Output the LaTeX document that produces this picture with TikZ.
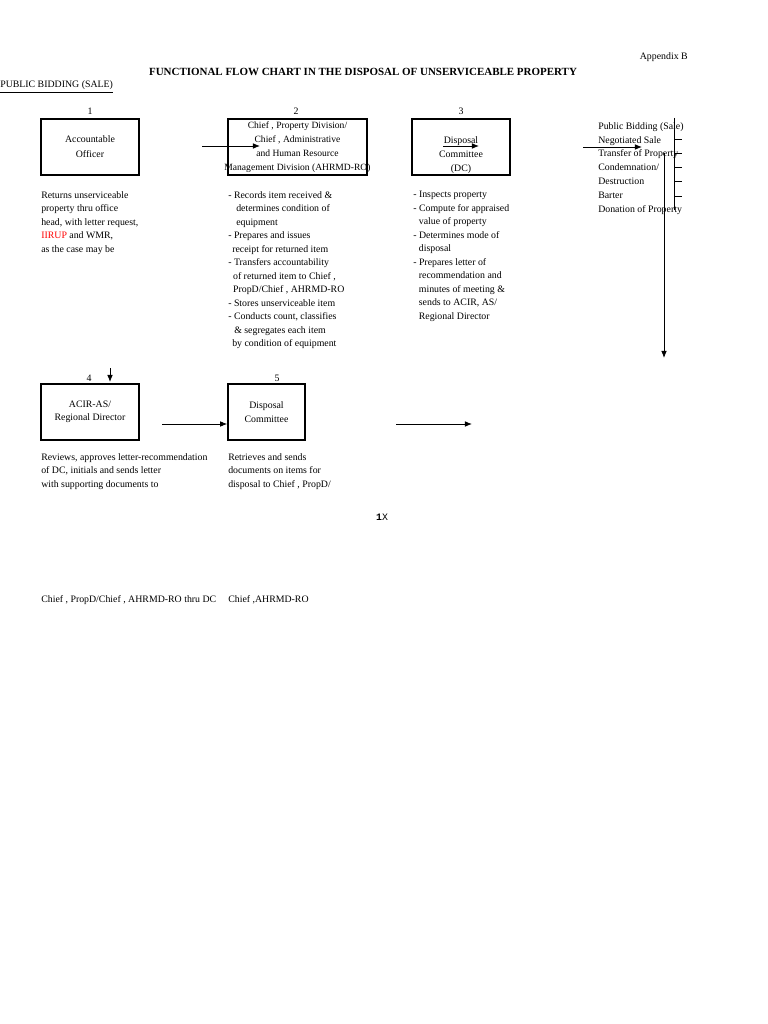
\documentclass[tikz,border=0pt]{standalone}
\usepackage{fontspec}
\setmainfont{Liberation Serif}
\setmonofont{Liberation Mono}
\usepackage{tikz}
\usetikzlibrary{arrows.meta, positioning}

\tikzset{
    box/.style={draw, line width=1.1pt, minimum height=1.4cm, align=center, inner sep=0pt},
    desc/.style={anchor=north west, align=left, inner sep=0pt},
    link/.style={-{Latex[length=5pt, width=4pt]}, line width=0.6pt},
}

\begin{document}
\begin{tikzpicture}[x=0.025cm, y=-0.025cm, font=\fontsize{7}{9.6}\selectfont]
    \useasboundingbox (0,0) rectangle (768,1024);

    % Heading
    \node[anchor=east, inner sep=0pt] (appx) at (688,57) {Appendix B};
    \node[font=\fontsize{7.8}{9}\selectfont\bfseries] (title) at (363,72) {FUNCTIONAL FLOW CHART IN THE DISPOSAL OF UNSERVICEABLE PROPERTY};
    \node[anchor=west, inner sep=0pt] (mode) at (0,87) {\underline{PUBLIC BIDDING (SALE)}};

    % First row of boxes
    \node[box, minimum width=2.45cm] (b1) at (90,147) {Accountable\\[1pt]Officer};
    \node[box, minimum width=3.475cm] (b2) at (297.5,147) {};
    \node[align=center, inner sep=0pt, font=\fontsize{6.8}{10}\selectfont] (t2) at (b2.center) {Chief , Property Division/\\Chief , Administrative\\and Human Resource\\Management Division (AHRMD-RO)};
    \node[box, minimum width=2.45cm] (b3) at (461,147) {};
    \node[align=center, inner sep=0pt, font=\fontsize{7}{10}\selectfont] (t3) at ([yshift=-0.2cm]b3.center) {Disposal\\Committee\\(DC)};
    \node (n1) at (90,111) {1};
    \node (n2) at (296,111) {2};
    \node (n3) at (461,111) {3};

    % What each office does
    \node[desc] (d1) at (41,191) {Returns unserviceable\\property thru office\\head, with letter request,\\\textcolor{red}{IIRUP} and WMR,\\as the case may be};
    \node[desc] (d2) at (228,191) {- Records item received \&\\
        \hspace*{0.2cm}determines condition of\\
        \hspace*{0.2cm}equipment\\
        - Prepares and issues\\
        \hspace*{0.1cm}receipt for returned item\\
        - Transfers accountability\\
        \hspace*{0.12cm}of returned item to Chief ,\\
        \hspace*{0.12cm}PropD/Chief , AHRMD-RO\\
        - Stores unserviceable item\\
        - Conducts count, classifies\\
        \hspace*{0.15cm}\& segregates each item\\
        \hspace*{0.1cm}by condition of equipment};
    \node[desc] (d3) at (413,191) {- Inspects property\\
        - Compute for appraised\\
        \hspace*{0.14cm}value of property\\
        - Determines mode of\\
        \hspace*{0.14cm}disposal\\
        - Prepares letter of\\
        \hspace*{0.14cm}recommendation and\\
        \hspace*{0.14cm}minutes of meeting \&\\
        \hspace*{0.14cm}sends to ACIR, AS/\\
        \hspace*{0.14cm}Regional Director};

    % Modes of disposal
    \node[desc, font=\fontsize{7}{9.9}\selectfont] (modes) at (598,122) {Public Bidding (Sale)\\Negotiated Sale\\Transfer of Property\\Condemnation/\\Destruction\\Barter\\Donation of Property};
    \draw[line width=0.6pt] (674,118) -- (674,210);
    \foreach \y in {139,153,167,181,196}
        \draw[line width=0.6pt] (674,\y) -- (682,\y);

    % Second row of boxes
    \node[box, minimum width=2.45cm] (b4) at (90,412) {ACIR-AS/\\Regional Director};
    \node[box, minimum width=1.925cm] (b5) at (266.5,412) {Disposal\\Committee};
    \node (n4) at (89,378) {4};
    \node (n5) at (277,378) {5};
    \node[desc] (d4) at (41,453) {Reviews, approves letter-recommendation\\of DC, initials and sends letter\\with supporting documents to};
    \node[desc] (d5) at (228,453) {Retrieves and sends\\documents on items for\\disposal to Chief , PropD/};

    % Arrows
    \coordinate (a12) at (202,146);
    \coordinate (a12e) at (260,146);
    \coordinate (a3) at (443,146);
    \coordinate (a3e) at (479,146);
    \coordinate (am) at (583,147);
    \coordinate (ame) at (642,147);
    \coordinate (drop) at (664,153);
    \coordinate (drope) at (664,358);
    \coordinate (in4) at (110,368);
    \coordinate (in4e) at (110,382);
    \coordinate (a45) at (162,424);
    \coordinate (out5) at (396,424);
    \coordinate (out5e) at (472,424);
    \draw[link] (a12) -- (a12e);
    \draw[link] (a3) -- (a3e);
    \draw[link] (am) -- (ame);
    \draw[link] (drop) -- (drope);
    \draw[link] (in4) -- (in4e);
    \draw[link] (a45) -- (a45 -| b5.west);
    \draw[link] (out5) -- (out5e);

    % Page mark and continuation lines
    \node (mark) at (382,517) {\ttfamily\textbf{1}X};
    \node[anchor=west, inner sep=0pt] (c4) at (41,600) {Chief , PropD/Chief , AHRMD-RO thru DC};
    \node[anchor=west, inner sep=0pt] (c5) at (228,600) {Chief ,AHRMD-RO};
\end{tikzpicture}
\end{document}
